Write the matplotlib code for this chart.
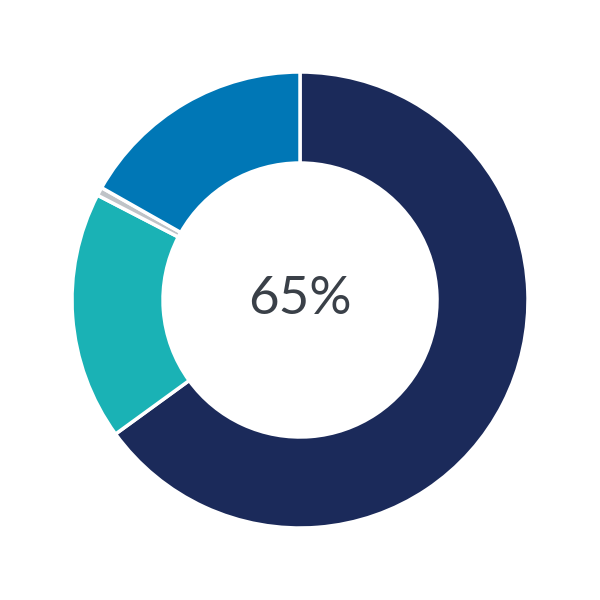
import matplotlib
matplotlib.use("Agg")
import matplotlib.pyplot as plt

labels = ["A", "B", "C", "D"]
values = [65, 17.6, 0.6, 16.8]
colors = ["#1b2a5a", "#1ab2b5", "#bfc3c7", "#0077b6"]
center_label = "65%"

fig = plt.figure(figsize=(6, 6), dpi=100)
ax = fig.add_axes([0, 0, 1, 1])
ax.pie(values, colors=colors, startangle=90, counterclock=False,
       radius=228, center=(0, 0),
       wedgeprops=dict(width=91, edgecolor="white", linewidth=2.5))
ax.text(0, 0, center_label, ha="center", va="center", fontsize=38,
        family="Lato", color="#3a4048")
ax.set_xlim(-300, 300)
ax.set_ylim(-300, 300)
ax.set_aspect("equal")
ax.axis("off")
fig.savefig("out.png", dpi=100, facecolor="white")
